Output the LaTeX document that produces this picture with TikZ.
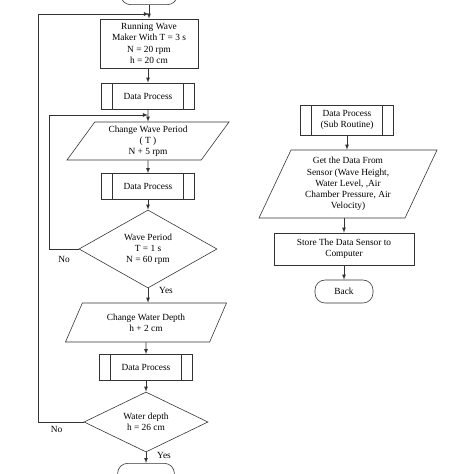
\documentclass[tikz,border=0pt]{standalone}
\usepackage{fontspec}
\setmainfont{Liberation Serif}
\usetikzlibrary{shapes.geometric}

\begin{document}
\begin{tikzpicture}[x=0.03cm, y=-0.03cm, font=\footnotesize, line width=0.5pt,
  every node/.style={align=center, text=black},
  proc/.style={draw=black!80, rectangle, minimum width=2.94cm, minimum height=1.47cm},
  subproc/.style={draw=black!80, rectangle, minimum width=2.79cm, minimum height=0.78cm,
    path picture={
      \draw[black!80] ([xshift=0.33cm]path picture bounding box.north west) -- ([xshift=0.33cm]path picture bounding box.south west);
      \draw[black!80] ([xshift=-0.33cm]path picture bounding box.north east) -- ([xshift=-0.33cm]path picture bounding box.south east);}},
  io/.style={draw=black!80, trapezium, trapezium left angle=50, trapezium right angle=130,
    trapezium stretches body, inner sep=1pt},
  decision/.style={draw=black!80, diamond, inner sep=0pt},
  term/.style={draw=black!80, rectangle, rounded corners=0.3cm, minimum width=1.7cm, minimum height=0.7cm},
  line/.style={draw=black!80, ->, >=latex}]

  \useasboundingbox (0,0) rectangle (474,474);
  \clip (0,0) rectangle (474,474);

  % Main loop
  \node[term] (start) at (149,-7) {};
  \node[proc] (run) at (149,43.5) {Running Wave\\Maker With T = 3 s\\N = 20 rpm\\h = 20 cm};
  \node[subproc] (dp1) at (148,96) {Data Process};
  \node[io, minimum width=4.86cm, minimum height=1.14cm] (cwp) at (148,141) {Change Wave Period\\( T )\\N + 5 rpm};
  \node[subproc] (dp2) at (148,186.5) {Data Process};
  \node[decision, shape aspect=1.8, minimum width=4.14cm, minimum height=2.34cm] (wp) at (148,249) {Wave Period\\T = 1 s\\N = 60 rpm};
  \node[io, minimum width=4.83cm, minimum height=1.17cm] (cwd) at (146,322.5) {Change Water Depth\\h + 2 cm};
  \node[subproc] (dp3) at (146,367.5) {Data Process};
  \node[decision, shape aspect=2, minimum width=3.72cm, minimum height=1.8cm] (wd) at (146,422) {Water depth\\h = 26 cm};
  \node[term] (stop) at (146,475) {};

  \coordinate (j1) at (149,14);
  \coordinate (j2) at (148,115);

  \draw[line] (start) -- (run);
  \draw[line] (run.south -| dp1) -- (dp1);
  \draw[line] (dp1) -- (cwp);
  \draw[line] (cwp) -- (dp2);
  \draw[line] (dp2) -- (wp);
  \draw[line] (wp.south) -- node[pos=0.15, right=6pt] {Yes} (wp.south |- cwd.north);
  \draw[line] (cwd) -- (dp3);
  \draw[line] (dp3) -- (wd);
  \draw[line] (wd) -- node[pos=0.25, right=6pt] {Yes} (stop);
  \draw[line] (wp.west) -- node[below=3pt] {No} ++(-29,0) |- (j2);
  \draw[line] (wd.west) -- node[below=0pt, xshift=-4pt] {No} ++(-45,0) |- (j1);

  % Sub routine
  \node[subproc, minimum height=0.9cm] (sub) at (347,120) {Data Process\\(Sub Routine)};
  \node[io, trapezium left angle=60, trapezium right angle=120, minimum width=5.34cm, minimum height=2.04cm] (get) at (348,184) {Get the Data From\\Sensor (Wave Height,\\Water Level, ,Air\\Chamber Pressure, Air\\Velocity)};
  \node[proc, minimum width=4.2cm, minimum height=0.96cm] (store) at (344,249) {Store The Data Sensor to\\Computer};
  \node[term, minimum width=1.74cm, minimum height=0.69cm] (back) at (344,291.5) {Back};

  \draw[line] (sub) -- (sub |- get.north);
  \draw[line] (store |- get.south) -- (store);
  \draw[line] (store) -- (back);
\end{tikzpicture}
\end{document}
